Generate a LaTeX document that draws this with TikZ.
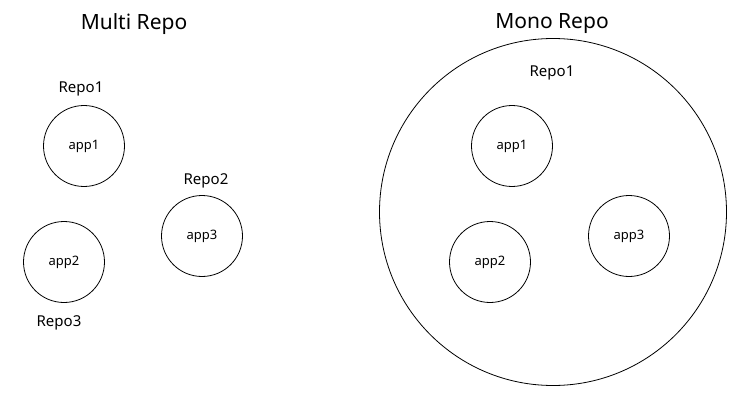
\documentclass[tikz,border=0pt]{standalone}
\usepackage{fontspec}
\setmainfont{Noto Sans}
\begin{document}
\begin{tikzpicture}[x=1pt,y=-1pt,
  app/.style={draw,circle,line width=0.8pt,minimum size=81pt,inner sep=0pt,font=\fontsize{13}{15}\selectfont},
  lbl/.style={font=\fontsize{15}{18}\selectfont},
  ttl/.style={font=\fontsize{21}{25}\selectfont}]
\useasboundingbox (0,0) rectangle (745,404);
\node[ttl] (t1) at (134,24) {Multi Repo};
\node[ttl] (t2) at (552,24) {Mono Repo};
\node[lbl] (r1) at (81,89) {Repo1};
\node[app] (a1) at (84,146) {app1};
\node[lbl] (r2) at (206,181) {Repo2};
\node[app] (a3) at (202,236) {app3};
\node[app] (a2) at (64,262) {app2};
\node[lbl] (r3) at (59,323) {Repo3};
\node[draw,circle,line width=0.8pt,minimum size=347pt] (big) at (553,212) {};
\node[lbl] (mr1) at (552,73) {Repo1};
\node[app] (m1) at (512,146) {app1};
\node[app] (m2) at (490,262) {app2};
\node[app] (m3) at (629,236) {app3};
\end{tikzpicture}
\end{document}
